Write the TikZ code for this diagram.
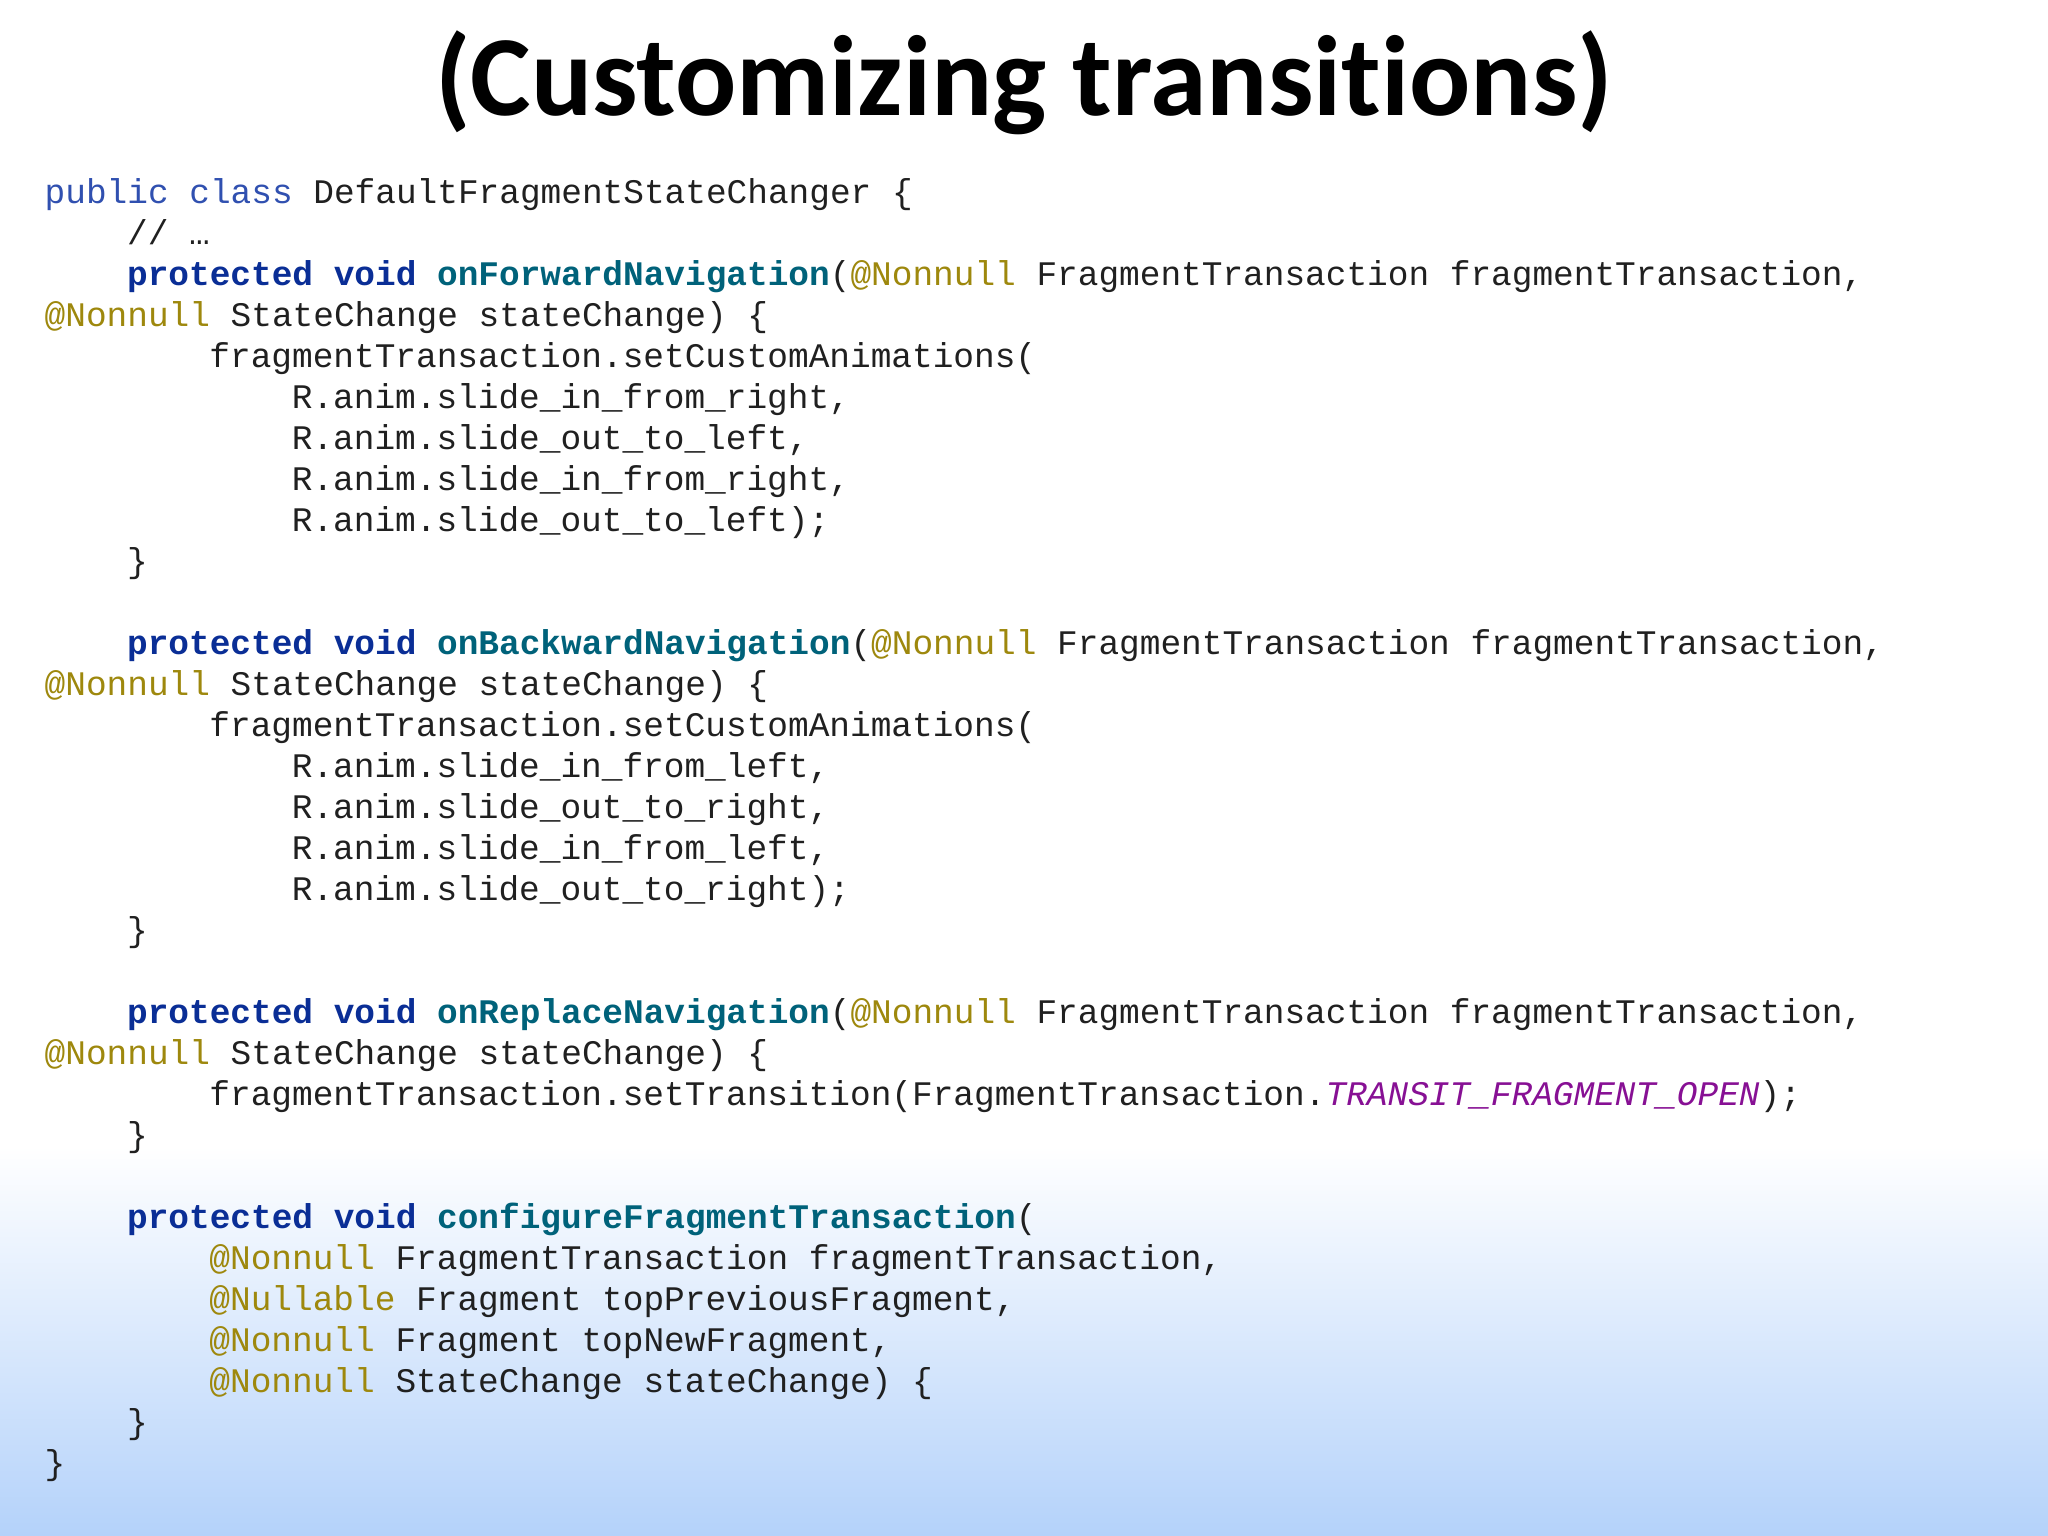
\documentclass[tikz,border=0pt]{standalone}
\usepackage{fontspec}
\setmainfont{Carlito}[Ligatures=NoCommon]
\setmonofont{Liberation Mono}
\definecolor{kwblue}{HTML}{0A2E96}
\definecolor{kwplain}{HTML}{3050B0}
\definecolor{mth}{HTML}{00627A}
\definecolor{ann}{HTML}{9E880D}
\definecolor{cst}{HTML}{871094}
\definecolor{txt}{HTML}{202020}
\definecolor{bgblue}{HTML}{B4D2FA}
\newcommand\kwb[1]{\textcolor{kwblue}{\bfseries #1}}
\newcommand\kwp[1]{\textcolor{kwplain}{#1}}
\newcommand\mth[1]{\textcolor{mth}{\bfseries #1}}
\newcommand\ann[1]{\textcolor{ann}{#1}}
\newcommand\cst[1]{\textcolor{cst}{\itshape #1}}
\newcommand\codeline[3]{\node[codetext] (l#1) at ({0.44+#2*0.206},{13.32-#1*0.41}) {#3};}
\tikzset{codetext/.style={anchor=base west,inner sep=0pt,font=\ttfamily\fontsize{9.8}{11}\selectfont,text=txt}}
\begin{document}
\begin{tikzpicture}
\useasboundingbox (0,0) rectangle (20.48,15.36);
\fill[white] (0,0) rectangle (20.48,15.36);
\shade[bottom color=bgblue,top color=white] (0,0) rectangle (20.48,3.9);
\node[anchor=base,font=\fontsize{32.5}{36}\selectfont\bfseries,inner sep=0pt] (title) at (10.24,14.2) {(Customizing transitions)};
\codeline{0}{0}{\kwp{public class} DefaultFragmentStateChanger \{}
\codeline{1}{4}{// …}
\codeline{2}{4}{\kwb{protected void} \mth{onForwardNavigation}(\ann{@Nonnull} FragmentTransaction fragmentTransaction,}
\codeline{3}{0}{\ann{@Nonnull} StateChange stateChange) \{}
\codeline{4}{8}{fragmentTransaction.setCustomAnimations(}
\codeline{5}{12}{R.anim.slide\_in\_from\_right,}
\codeline{6}{12}{R.anim.slide\_out\_to\_left,}
\codeline{7}{12}{R.anim.slide\_in\_from\_right,}
\codeline{8}{12}{R.anim.slide\_out\_to\_left);}
\codeline{9}{4}{\}}
\codeline{11}{4}{\kwb{protected void} \mth{onBackwardNavigation}(\ann{@Nonnull} FragmentTransaction fragmentTransaction,}
\codeline{12}{0}{\ann{@Nonnull} StateChange stateChange) \{}
\codeline{13}{8}{fragmentTransaction.setCustomAnimations(}
\codeline{14}{12}{R.anim.slide\_in\_from\_left,}
\codeline{15}{12}{R.anim.slide\_out\_to\_right,}
\codeline{16}{12}{R.anim.slide\_in\_from\_left,}
\codeline{17}{12}{R.anim.slide\_out\_to\_right);}
\codeline{18}{4}{\}}
\codeline{20}{4}{\kwb{protected void} \mth{onReplaceNavigation}(\ann{@Nonnull} FragmentTransaction fragmentTransaction,}
\codeline{21}{0}{\ann{@Nonnull} StateChange stateChange) \{}
\codeline{22}{8}{fragmentTransaction.setTransition(FragmentTransaction.\cst{TRANSIT\_FRAGMENT\_OPEN});}
\codeline{23}{4}{\}}
\codeline{25}{4}{\kwb{protected void} \mth{configureFragmentTransaction}(}
\codeline{26}{8}{\ann{@Nonnull} FragmentTransaction fragmentTransaction,}
\codeline{27}{8}{\ann{@Nullable} Fragment topPreviousFragment,}
\codeline{28}{8}{\ann{@Nonnull} Fragment topNewFragment,}
\codeline{29}{8}{\ann{@Nonnull} StateChange stateChange) \{}
\codeline{30}{4}{\}}
\codeline{31}{0}{\}}
\end{tikzpicture}
\end{document}
